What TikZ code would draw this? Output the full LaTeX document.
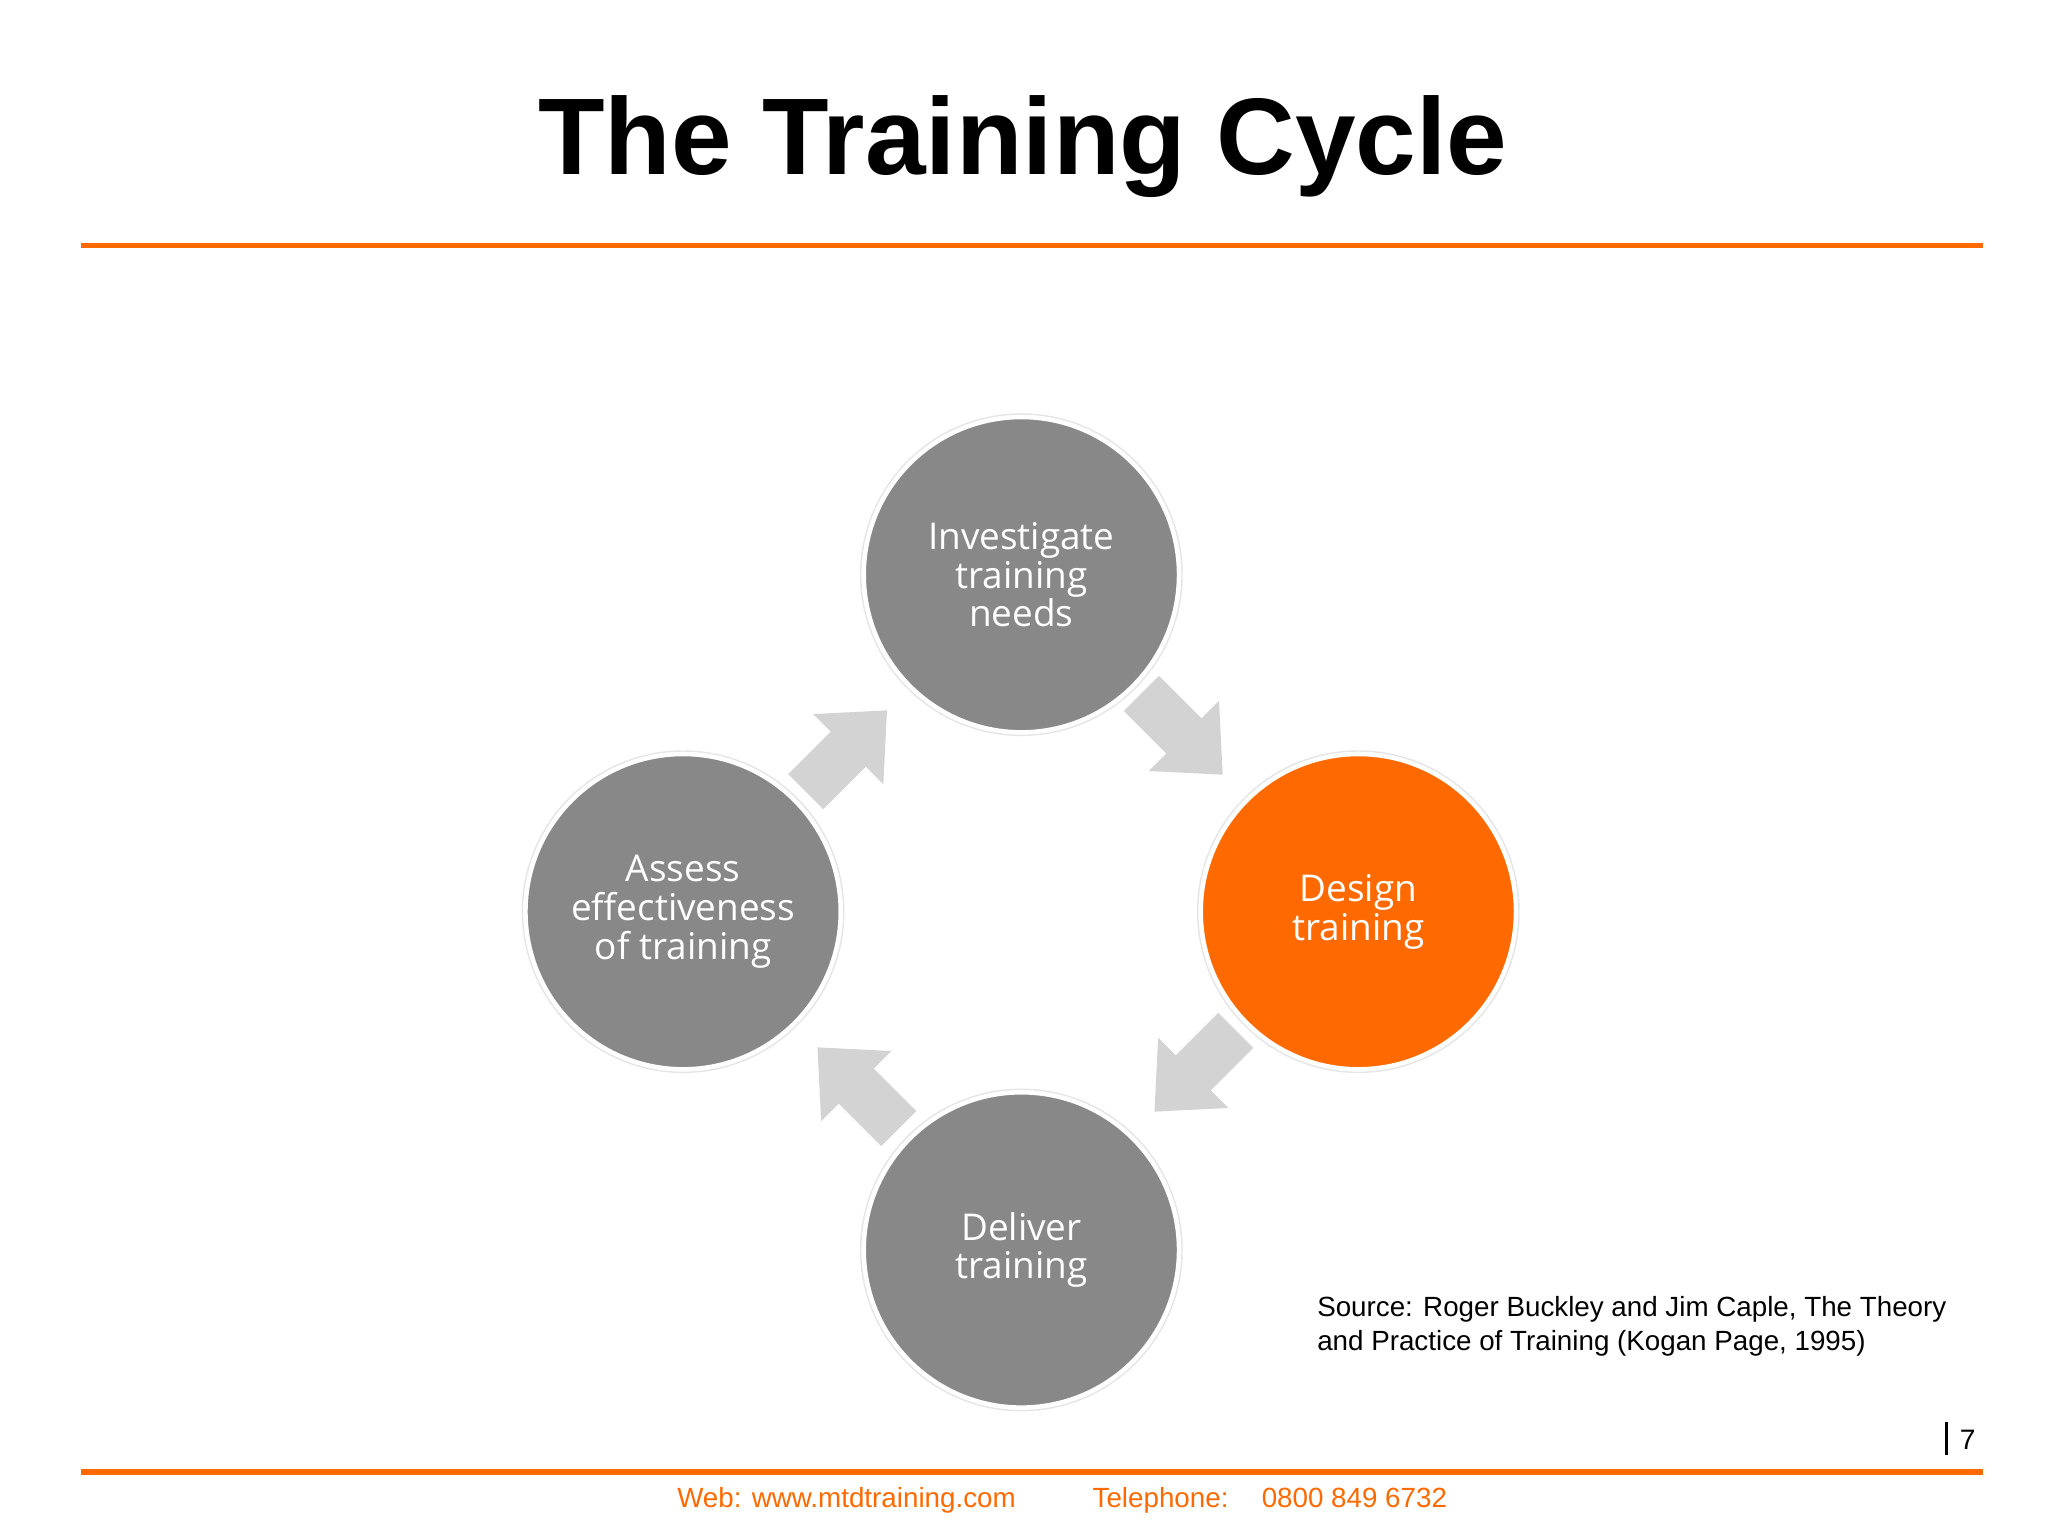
\documentclass[tikz,border=0pt]{standalone}
\usepackage{fontspec}
\setmainfont{Liberation Sans}
\newfontfamily\circfont{Open Sans}
\definecolor{mtdorange}{HTML}{FF6A00}
\definecolor{circgray}{HTML}{888888}
\definecolor{arrgray}{HTML}{D3D3D3}
\begin{document}
\begin{tikzpicture}[x=0.013061cm,y=-0.013061cm,
  stage/.style={circle,minimum size=240\pgflinewidth,inner sep=0pt,draw=white,line width=1.2pt,
    double=none,text=white,font=\circfont\fontsize{10.5}{11}\selectfont,align=center,
    minimum size=3.15cm},
  ring/.style={draw=black!10,line width=0.4pt},
  blockarrow/.style={fill=arrgray,draw=none}]
\useasboundingbox (0,0) rectangle (1568,1176);
\fill[white] (0,0) rectangle (1568,1176);
\node[font=\bfseries\fontsize{31}{34}\selectfont] (title) at (783,112) {The Training Cycle};
\coordinate (l1a) at (62,188); \coordinate (l1b) at (1518,188);
\draw[mtdorange,line width=1.5pt] (l1a) -- (l1b);
\coordinate (l2a) at (62,1127); \coordinate (l2b) at (1518,1127);
\draw[mtdorange,line width=1.5pt] (l2a) -- (l2b);
% circles
\foreach \n/\x/\y in {top/782/440,right/1040/698,left/523/698,bottom/782/957}{
  \draw[ring] (\x,\y) circle (123);
}
\node[stage,fill=circgray] (top) at (782,440) {Investigate\\training\\needs};
\node[stage,fill=mtdorange] (right) at (1040,698) {Design\\training};
\node[stage,fill=circgray] (left) at (523,698) {Assess\\effectiveness\\of training};
\node[stage,fill=circgray] (bottom) at (782,957) {Deliver\\training};
% arrows
\foreach \cx/\cy/\r in {905/562/-45, 915/820/-135, 657/833/135, 648/575/45}{
  \begin{scope}[shift={(\cx,\cy)},rotate=\r]
    \fill[blockarrow] (-44,-19) -- (2,-19) -- (2,-38) -- (44,0) -- (2,38) -- (2,19) -- (-44,19) -- cycle;
  \end{scope}
}
\node[anchor=north west,align=left,font=\fontsize{7.9}{9.6}\selectfont,inner sep=0pt] (src) at (1008,992)
 {Source: Roger Buckley and Jim Caple, The Theory\\and Practice of Training (Kogan Page, 1995)};
\node[anchor=west,font=\fontsize{8}{9}\selectfont,inner sep=0pt] (pg) at (1500,1102) {7};
\coordinate (pa) at (1490,1089); \coordinate (pb) at (1490,1114);
\draw[line width=0.8pt] (pa) -- (pb);
\node[anchor=west,text=mtdorange,font=\fontsize{7.9}{9}\selectfont,inner sep=0pt] (web) at (518,1149) {Web: www.mtdtraining.com};
\node[anchor=west,text=mtdorange,font=\fontsize{7.9}{9}\selectfont,inner sep=0pt] (tel) at (836,1149) {Telephone:\hspace{1.2em}0800 849 6732};
\end{tikzpicture}
\end{document}
